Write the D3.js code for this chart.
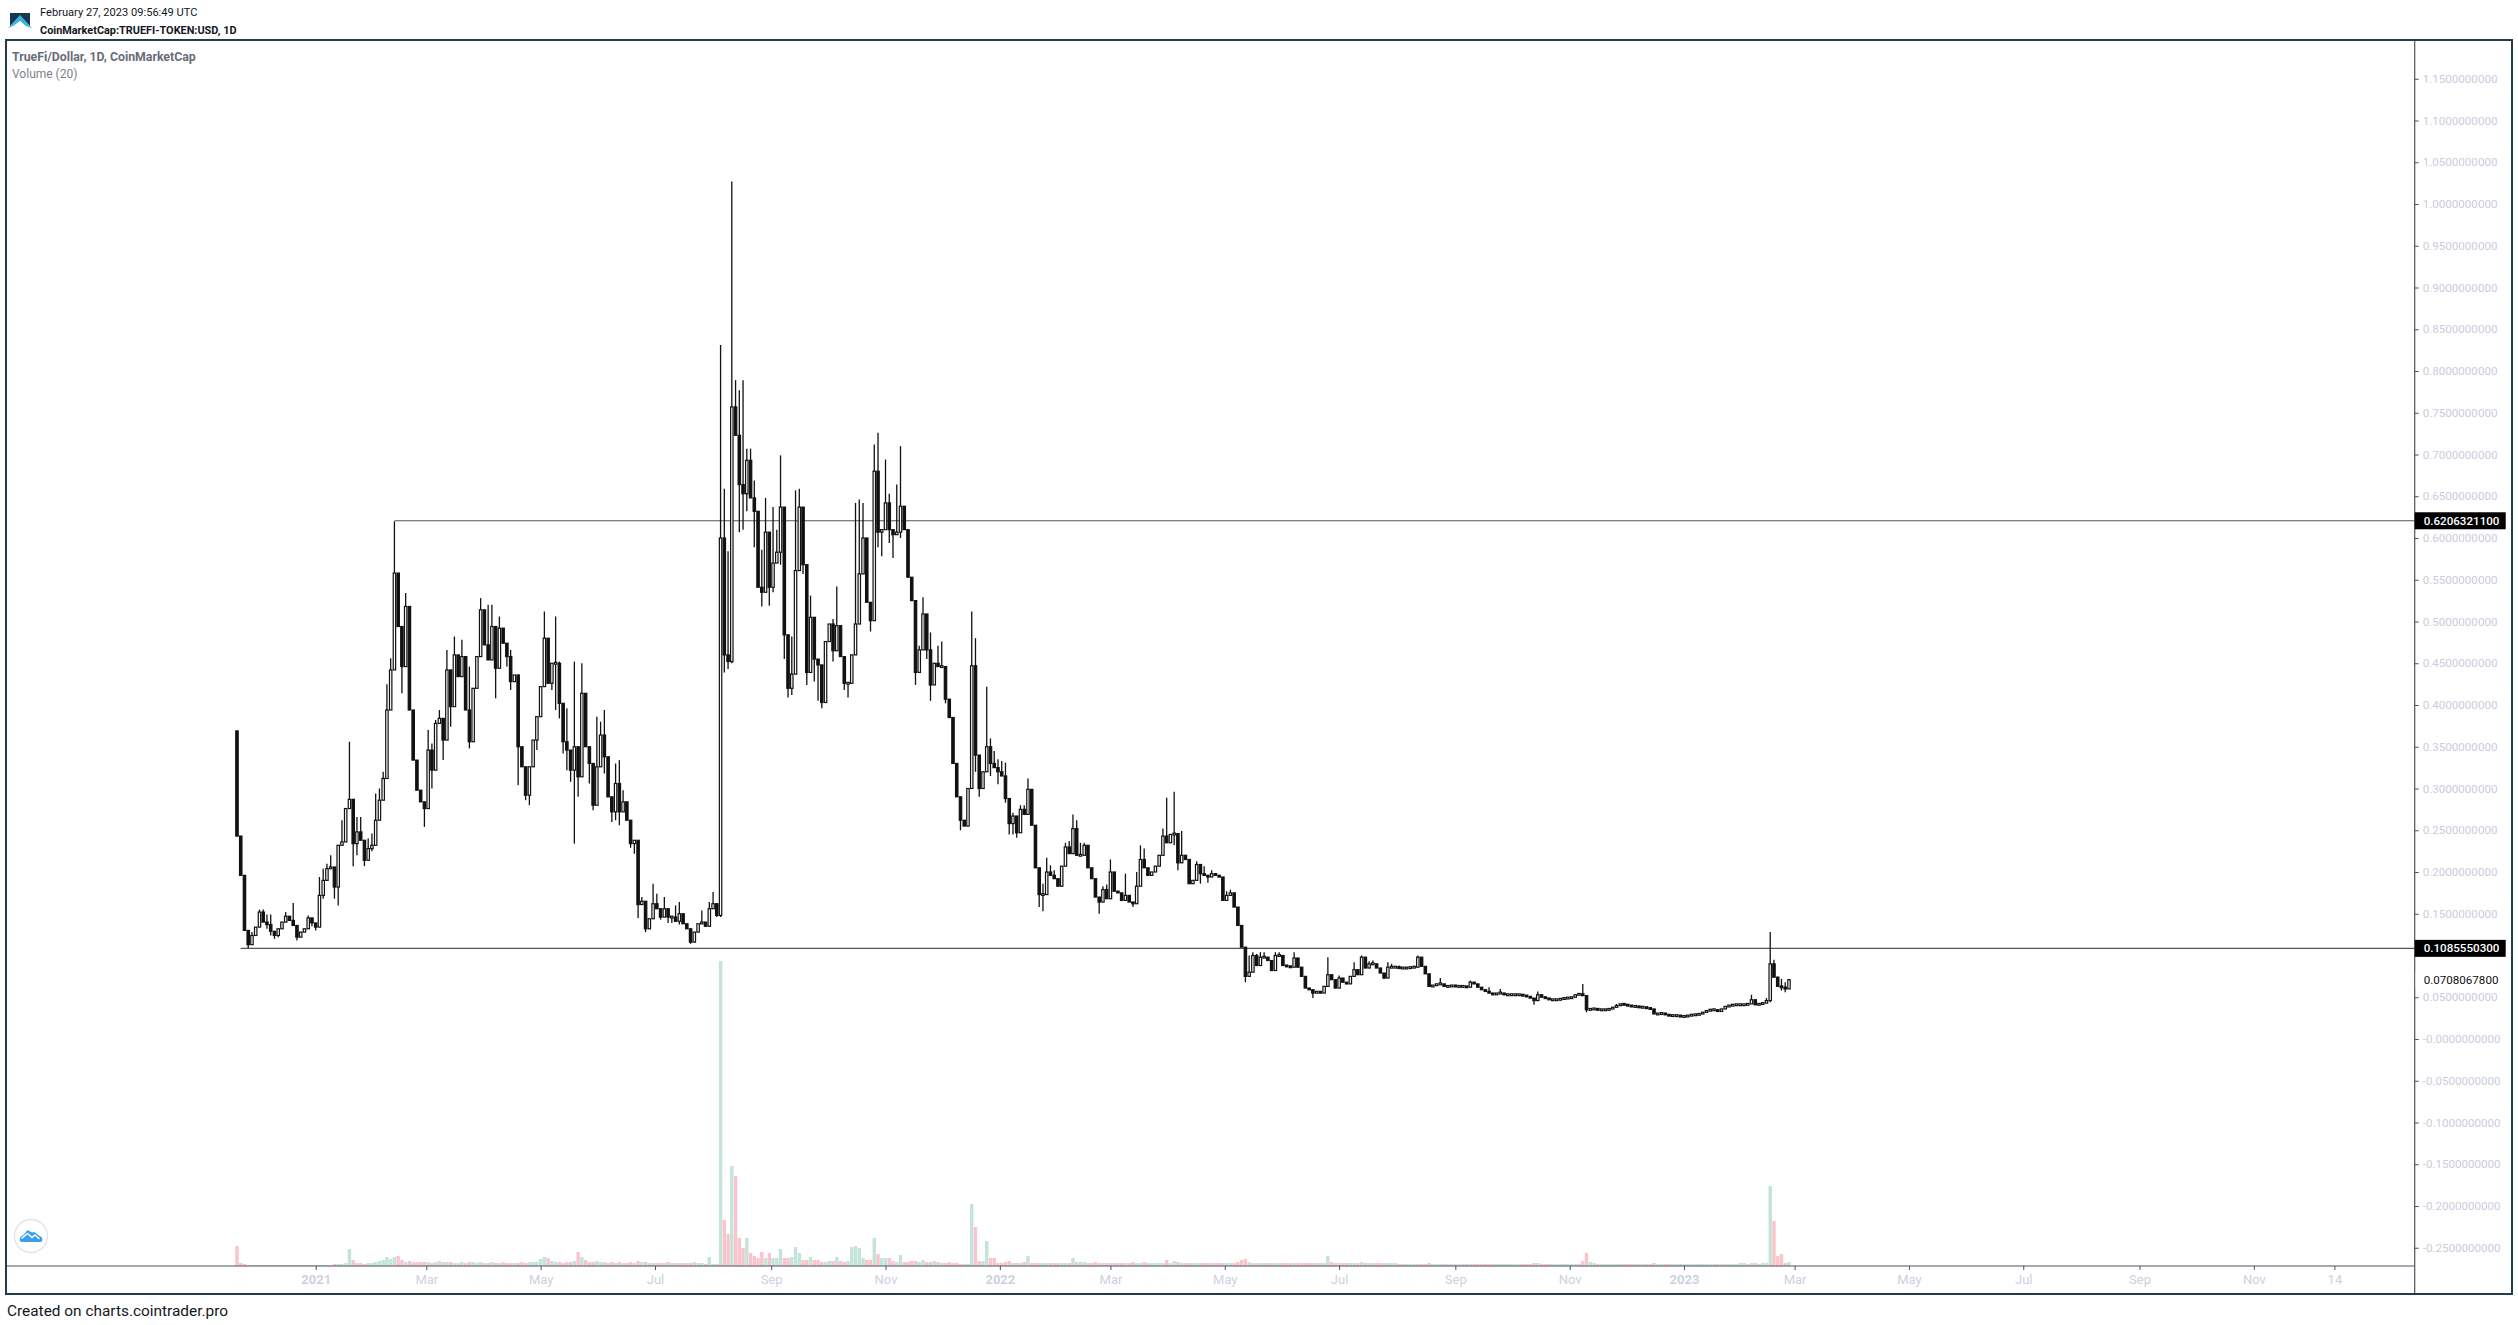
<!DOCTYPE html>
<html>
<head>
<meta charset="utf-8">
<title>TrueFi/Dollar</title>
<script src="https://cdn.jsdelivr.net/npm/d3@7/dist/d3.min.js"></script>
<style>
  html, body { margin: 0; padding: 0; background: #fff; }
  svg { display: block; font-family: Roboto, sans-serif; }
</style>
</head>
<body>
<svg id="chart" width="2518" height="1325"></svg>
<script>
// candles every second day, prices in 1/1000 dollar
const firstDay = "2020-11-20";
const dayStep = 2;
const firstOpen = 369;
const closes = [
  243,196,130,113,124,134,152,140,137,129,
  124,132,140,147,142,136,122,128,132,145,
  139,134,172,190,204,206,182,232,236,276,
  287,234,248,238,214,228,232,262,286,312,
  394,442,558,494,446,518,394,334,298,284,
  276,346,322,378,384,358,442,398,460,434,
  458,394,356,420,458,514,472,454,494,444,
  492,474,458,428,436,350,326,292,326,358,
  386,422,480,426,450,450,402,356,346,322,
  350,314,414,350,330,280,326,364,338,290,
  272,306,272,284,262,234,238,161,165,132,
  144,162,156,146,156,146,146,141,150,138,
  132,116,128,138,140,135,156,162,148,600,
  460,452,757,723,664,653,693,648,632,541,
  535,607,541,570,583,637,484,420,437,561,
  637,568,439,505,455,448,403,476,497,465,
  495,458,426,426,460,497,557,600,523,501,
  680,607,610,642,610,604,607,638,610,553,
  525,439,466,509,466,424,450,446,446,407,
  385,330,290,262,255,300,447,340,300,320,
  350,330,325,320,315,288,258,267,247,275,
  269,299,256,205,173,173,200,196,192,183,
  207,230,222,252,220,220,232,205,192,170,
  164,179,168,200,177,175,166,172,164,162,
  183,215,205,196,200,207,220,243,235,245,
  246,211,220,215,186,190,209,198,196,194,
  198,196,194,166,172,175,158,136,110,75,
  80,100,88,98,98,94,82,100,100,88,
  87,86,97,86,75,61,59,55,57,55,
  63,77,71,61,73,68,66,75,83,77,
  98,85,90,90,85,79,73,86,86,86,
  85,85,85,86,86,98,87,78,63,64,
  66,66,63,63,64,63,63,63,62,68,
  66,62,59,57,55,53,55,55,53,53,
  53,53,53,52,51,49,46,53,50,49,
  47,47,47,48,49,49,50,53,54,52,
  35,36,36,35,35,35,36,38,40,42,
  41,40,39,39,38,38,37,36,30,30,
  31,29,28,28,28,27,27,28,29,29,
  30,32,34,35,35,33,36,39,40,41,
  41,41,41,42,47,41,42,43,46,90,
  74,63,62,60,71
];

// [candle index, wick end] only where a wick sticks out of the body
const upperWicks = [
  [4,128],[6,155],[7,155],[8,149],[9,149],[13,152],[15,163],[19,148],[20,145],[22,194],
  [23,204],[24,210],[25,220],[28,262],[30,356],[32,266],[33,266],[35,240],[36,246],[37,294],
  [38,300],[39,320],[40,425],[41,456],[42,620],[45,534],[51,370],[52,354],[53,382],[54,394],
  [56,466],[58,482],[60,478],[62,446],[65,528],[67,520],[68,520],[70,506],[73,466],[82,512],
  [85,506],[86,452],[87,396],[88,396],[90,452],[92,450],[96,386],[97,380],[98,394],[99,338],
  [101,330],[102,334],[103,298],[108,170],[111,186],[112,174],[114,170],[117,160],[118,164],
  [124,154],[126,164],[127,176],[129,831],[130,659],[131,584],[132,1027],[133,789],[134,777],
  [135,789],[136,707],[137,707],[138,669],[139,586],[140,586],[141,648],[143,637],[144,610],
  [145,699],[148,482],[149,657],[150,659],[153,531],[159,503],[160,542],[165,642],[166,646],
  [167,642],[170,712],[171,726],[173,694],[174,653],[176,664],[177,710],[182,471],[183,529],
  [185,487],[187,471],[188,476],[196,512],[197,480],[200,422],[201,360],[202,345],[203,335],
  [204,333],[205,331],[207,271],[209,280],[210,280],[211,312],[215,186],[216,217],[217,208],
  [218,202],[221,235],[222,237],[223,269],[224,262],[225,235],[226,235],[231,183],[232,185],
  [233,215],[237,198],[240,200],[241,232],[242,228],[247,252],[248,289],[250,296],[252,249],
  [256,213],[258,207],[260,202],[264,177],[265,179],[270,100],[271,104],[272,102],[273,104],
  [274,104],[277,104],[278,104],[282,104],[291,98],[294,76],[298,92],[300,100],[302,93],
  [303,94],[307,92],[308,90],[310,88],[315,100],[321,73],[329,70],[334,62],[337,60],[347,57],
  [359,66],[368,42],[404,53],[408,49],[409,128],[410,95],[411,75],[412,72],[413,68],[414,72]
];
const lowerWicks = [
  [3,109],[4,118],[8,132],[9,124],[10,120],[11,122],[16,118],[17,124],[20,135],[21,130],
  [23,168],[26,168],[27,160],[31,207],[32,220],[34,207],[36,225],[44,414],[50,254],[52,300],
  [55,334],[57,374],[62,348],[69,408],[72,446],[73,418],[75,304],[77,286],[78,280],[80,346],
  [84,418],[85,394],[86,384],[87,342],[88,322],[89,308],[90,234],[91,290],[94,306],[95,274],
  [96,292],[98,318],[100,260],[101,262],[102,256],[105,229],[106,222],[107,145],[109,128],
  [113,143],[115,139],[116,139],[118,137],[121,114],[128,146],[129,146],[130,439],[131,443],
  [132,450],[134,607],[135,610],[136,632],[138,589],[140,518],[142,519],[143,535],[145,568],
  [146,455],[147,409],[148,412],[151,557],[152,424],[154,428],[155,405],[156,396],[159,452],
  [162,418],[163,409],[169,488],[171,589],[172,578],[174,594],[175,576],[177,600],[181,424],
  [184,455],[185,405],[186,434],[189,402],[193,250],[197,320],[198,290],[201,315],[203,305],
  [205,283],[206,245],[207,245],[208,241],[214,158],[215,153],[230,150],[239,158],[250,232],
  [251,202],[257,186],[259,187],[269,68],[287,49],[306,72],[346,41],[360,32],[409,44],
  [412,58],[413,56],[414,62]
];

// volume has no scale in the picture, 305 is the tallest bar
const volumes = [
  20,3,2,1,1,1,1,1,1,1,
  1,1,1,1,1,1,1,1,1,1,
  1,1,1,1,1,1,2,2,2,3,
  17,6,3,3,2,3,3,4,5,6,
  9,7,9,10,6,4,5,4,4,4,
  4,4,3,4,5,4,4,4,3,3,
  4,3,4,4,3,4,3,3,4,3,
  3,4,3,3,3,3,4,3,4,4,
  4,7,9,8,5,4,4,3,4,4,
  5,14,9,6,4,4,5,4,4,3,
  4,3,4,3,3,4,3,5,4,4,
  3,3,3,3,3,4,3,3,3,3,
  3,3,4,3,3,2,9,2,2,305,
  46,32,100,90,28,18,28,13,10,8,
  14,8,13,8,8,17,8,8,9,19,
  13,6,6,9,6,6,4,4,5,5,
  9,5,4,5,19,20,18,8,6,6,
  28,12,8,8,8,5,4,11,4,4,
  5,5,4,6,4,4,5,4,3,3,
  4,3,3,2,2,2,62,39,5,5,
  25,8,8,3,3,4,5,3,3,3,
  4,10,3,3,3,3,3,3,3,3,
  3,3,3,8,4,4,4,3,3,4,
  3,3,3,3,3,3,3,3,3,4,
  3,3,4,3,3,3,3,3,6,3,
  5,4,3,3,3,3,3,3,3,3,
  3,3,3,3,3,3,3,4,6,7,
  4,3,3,3,3,3,3,3,3,3,
  3,3,3,3,3,3,3,3,3,3,
  3,10,4,3,3,3,3,3,3,3,
  4,3,3,3,3,3,3,3,3,3,
  2,2,2,2,2,2,2,2,3,2,
  2,2,2,2,2,2,2,2,2,2,
  2,2,2,2,2,2,2,2,2,2,
  2,2,2,2,2,2,3,3,2,2,
  2,2,2,2,2,2,2,2,2,5,
  13,4,3,2,2,2,2,2,2,2,
  2,2,2,2,2,2,2,2,3,2,
  2,2,2,2,2,2,2,2,2,2,
  2,2,2,2,2,2,2,2,2,2,
  2,3,3,2,3,3,2,3,3,80,
  45,10,12,3,4
];

const priceTicks = [1.15,1.1,1.05,1,0.95,0.9,0.85,0.8,0.75,0.7,0.65,0.6,0.55,0.5,0.45,0.4,0.35,0.3,0.25,0.2,0.15,0.05,0,-0.05,-0.1,-0.15,-0.2,-0.25];
const priceLabels = ["1.1500000000","1.1000000000","1.0500000000","1.0000000000","0.9500000000","0.9000000000","0.8500000000","0.8000000000","0.7500000000","0.7000000000","0.6500000000","0.6000000000","0.5500000000","0.5000000000","0.4500000000","0.4000000000","0.3500000000","0.3000000000","0.2500000000","0.2000000000","0.1500000000","0.0500000000","-0.0000000000","-0.0500000000","-0.1000000000","-0.1500000000","-0.2000000000","-0.2500000000"];
const timeTicks = ["2021-01-01","2021-03-01","2021-05-01","2021-07-01","2021-09-01","2021-11-01","2022-01-01","2022-03-01","2022-05-01","2022-07-01","2022-09-01","2022-11-01","2023-01-01","2023-03-01","2023-05-01","2023-07-01","2023-09-01","2023-11-01","2023-12-14"];
const timeLabels = ["2021","Mar","May","Jul","Sep","Nov","2022","Mar","May","Jul","Sep","Nov","2023","Mar","May","Jul","Sep","Nov","14"];

// the two drawn levels: [price, candle they start from]
const levels = [[0.6206321100, 42], [0.1085550300, 1]];
const levelLabels = ["0.6206321100", "0.1085550300"];
const lastPrice = 0.0708067800;
const lastPriceLabel = "0.0708067800";

const frame = { left: 6, top: 40, right: 2512, bottom: 1294 };
const axisX = 2414.7;
const axisY = 1266;
const minBody = 1.8;

const parseDay = d3.utcParse("%Y-%m-%d");
const x = d3.scaleUtc()
  .domain([parseDay("2021-01-01"), parseDay("2023-01-01")])
  .range([315.7, 1684]);
const y = d3.scaleLinear().domain([0, 1]).range([1039, 204]);
const yVolume = d3.scaleLinear().domain([0, 305]).range([axisY, 961]);

const upper = new Map(upperWicks);
const lower = new Map(lowerWicks);
const candles = closes.map((close, i) => {
  const open = i ? closes[i - 1] : firstOpen;
  return {
    i,
    date: d3.utcDay.offset(parseDay(firstDay), i * dayStep),
    open: open / 1000,
    close: close / 1000,
    high: Math.max(open, close, upper.get(i) || 0) / 1000,
    low: Math.min(open, close, lower.get(i) || 9999) / 1000,
    volume: volumes[i]
  };
});

const svg = d3.select("#chart");

// volume
svg.append("g").selectAll("rect")
  .data(candles)
  .join("rect")
  .attr("x", d => x(d.date) - 1.7)
  .attr("width", 3.4)
  .attr("y", d => yVolume(d.volume))
  .attr("height", d => axisY - yVolume(d.volume))
  .attr("fill", d => d.close >= d.open ? "#c4e3da" : "#f9c4cc");

// level lines
svg.append("g").selectAll("line")
  .data(levels)
  .join("line")
  .attr("x1", d => x(candles[d[1]].date))
  .attr("x2", axisX)
  .attr("y1", d => y(d[0]))
  .attr("y2", d => y(d[0]))
  .attr("stroke", "#555")
  .attr("stroke-width", 1.2);

// candles
const candle = svg.append("g").selectAll("g")
  .data(candles)
  .join("g");
candle.append("line")
  .attr("x1", d => x(d.date))
  .attr("x2", d => x(d.date))
  .attr("y1", d => y(d.high))
  .attr("y2", d => y(d.low))
  .attr("stroke", "#111")
  .attr("stroke-width", 1.3);
candle.append("rect")
  .attr("x", d => x(d.date) - 1.2)
  .attr("width", 2.4)
  .attr("y", d => {
    const top = y(Math.max(d.open, d.close));
    const h = Math.abs(y(d.open) - y(d.close));
    return h < minBody ? top - (minBody - h) / 2 : top;
  })
  .attr("height", d => Math.max(minBody, Math.abs(y(d.open) - y(d.close))))
  .attr("fill", d => d.close >= d.open ? "#fff" : "#111")
  .attr("stroke", "#111")
  .attr("stroke-width", 1.2);

// time axis
const timeAxis = svg.append("g")
  .attr("transform", `translate(0,${axisY})`)
  .call(d3.axisBottom(x)
    .tickValues(timeTicks.map(parseDay))
    .tickSize(4)
    .tickPadding(5)
    .tickFormat((d, i) => timeLabels[i]));
timeAxis.select(".domain").remove();
timeAxis.selectAll(".tick line").attr("stroke", "#50535e");
timeAxis.selectAll(".tick text")
  .attr("fill", "#cdd1e0")
  .style("font-family", "Roboto, sans-serif")
  .style("font-size", "13px")
  .style("font-weight", (d, i) => /^\d{4}$/.test(timeLabels[i]) ? 700 : 400);
svg.append("line")
  .attr("x1", frame.left).attr("x2", axisX)
  .attr("y1", axisY).attr("y2", axisY)
  .attr("stroke", "#50535e").attr("stroke-width", 1.2);

// price axis
const priceAxis = svg.append("g")
  .attr("transform", `translate(${axisX},0)`)
  .call(d3.axisRight(y)
    .tickValues(priceTicks)
    .tickSize(4)
    .tickPadding(4)
    .tickFormat((d, i) => priceLabels[i]));
priceAxis.select(".domain").remove();
priceAxis.selectAll(".tick line").attr("stroke", "#50535e");
priceAxis.selectAll(".tick text")
  .attr("fill", "#c9cddc")
  .style("font-family", "Roboto, sans-serif")
  .style("font-size", "11.6px");
svg.append("line")
  .attr("x1", axisX).attr("x2", axisX)
  .attr("y1", frame.top).attr("y2", frame.bottom)
  .attr("stroke", "#50535e").attr("stroke-width", 1.2);

// price tags
const tags = svg.append("g").selectAll("g")
  .data(levels)
  .join("g")
  .attr("transform", d => `translate(${axisX},${y(d[0])})`);
tags.append("rect")
  .attr("x", 0).attr("y", -8.5).attr("width", 91).attr("height", 17)
  .attr("fill", "#000");
tags.append("text")
  .attr("x", 9).attr("dy", "0.34em")
  .attr("fill", "#fff")
  .attr("font-size", 11.6)
  .attr("font-weight", 500)
  .text((d, i) => levelLabels[i]);
svg.append("rect")
  .attr("x", axisX + 1).attr("y", y(lastPrice) - 8.5).attr("width", 90).attr("height", 17)
  .attr("fill", "#fff");
svg.append("text")
  .attr("x", axisX + 9).attr("y", y(lastPrice)).attr("dy", "0.34em")
  .attr("fill", "#111")
  .attr("font-size", 11.6)
  .text(lastPriceLabel);

// frame
svg.append("rect")
  .attr("x", frame.left).attr("y", frame.top)
  .attr("width", frame.right - frame.left).attr("height", frame.bottom - frame.top)
  .attr("fill", "none")
  .attr("stroke", "#233c49")
  .attr("stroke-width", 2);

// header and legend
const logo = svg.append("g");
logo.append("path").attr("d", "M10,13H30V26L20,17L10,26Z").attr("fill", "#17384f");
logo.append("path").attr("d", "M8,28L20,15L32,28L26,26L20,21L13,26Z").attr("fill", "#3ab6d8");
const texts = [
  ["February 27, 2023 09:56:49 UTC", 40, 16, 11.1, 400, "#131722"],
  ["CoinMarketCap:TRUEFI-TOKEN:USD, 1D", 40, 34, 10.9, 700, "#131722"],
  ["TrueFi/Dollar, 1D, CoinMarketCap", 12, 61, 12.3, 700, "#6a6d78"],
  ["Volume (20)", 12, 78, 12, 400, "#7c7f8a"],
  ["Created on charts.cointrader.pro", 7, 1316, 15.4, 400, "#131722"]
];
svg.append("g").selectAll("text")
  .data(texts)
  .join("text")
  .attr("x", d => d[1])
  .attr("y", d => d[2])
  .attr("font-size", d => d[3])
  .attr("font-weight", d => d[4])
  .attr("fill", d => d[5])
  .text(d => d[0]);

// small cloud badge
const badge = svg.append("g").attr("transform", "translate(31,1236)");
badge.append("circle").attr("r", 16.5).attr("fill", "#fff").attr("stroke", "#dfe3ea").attr("stroke-width", 1.3);
badge.append("path")
  .attr("d", "M-11,5C-12,1 -9.5,0 -7.5,-1L-3.5,-6L1,-3.5L3.5,-4L8.5,0C11,0.5 12,4 11,5L10,6H-10Z")
  .attr("fill", "#3a9ff0");
badge.append("path")
  .attr("d", "M-9.5,2.5L-3.5,-2.5L1,1.5L4,-1L8.5,3")
  .attr("fill", "none").attr("stroke", "#fff").attr("stroke-width", 1.4);

if (closes.length !== volumes.length) console.error("length mismatch", closes.length, volumes.length);
</script>
</body>
</html>
